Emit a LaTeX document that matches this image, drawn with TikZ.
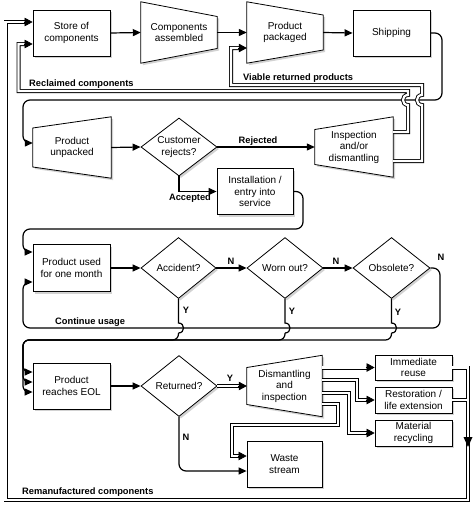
\documentclass[tikz,border=0pt]{standalone}
\usepackage{fontspec}
\setmainfont{Liberation Sans}
\usetikzlibrary{arrows.meta,shapes.geometric,shadows,backgrounds,calc}
\begin{document}
\begin{tikzpicture}[x=1pt,y=-1pt,
  shad/.style={drop shadow={shadow xshift=2pt,shadow yshift=-2pt,fill=black!35}},
  txt/.style={align=center,font=\fontsize{10}{11.5}\selectfont},
  box/.style={txt,draw,line width=0.8pt,fill=white,shad,inner sep=0pt},
  tz/.style={txt,inner sep=0pt},
  tzshape/.style={draw,line width=0.8pt,fill=white,shad},
  dia/.style={diamond,draw,line width=0.8pt,fill=white,shad,inner sep=0pt},
  flow/.style={line width=1.2pt},
  arr/.style={flow,-{Triangle[length=8pt,width=7pt]}},
  lab/.style={font=\bfseries\fontsize{9.3}{10}\selectfont,inner sep=0pt},
  dout/.style={line width=4pt,black},
  din/.style={line width=2.2pt,white},
  dhd/.style={line width=0.6pt,-{Triangle[length=8pt,width=8.5pt]}},
]
\useasboundingbox (0,0) rectangle (474,506);

% ---------- nodes ----------
\node[box, minimum width=77pt, minimum height=46pt] (store) at (71.5,33) {Store of\\components};
\node[tz, minimum width=76pt, minimum height=61pt] (ca) at (179,32.5) {Components\\assembled};
\node[tz, minimum width=76pt, minimum height=61pt] (pp) at (285,32.5) {Product\\packaged};
\node[box, minimum width=77pt, minimum height=46pt] (ship) at (391.5,33) {Shipping};

\node[tz, minimum width=78pt, minimum height=61pt] (pu) at (72,147.5) {Product\\unpacked};
\node[dia, minimum width=76pt, minimum height=58pt,
      label={[txt]center:{Customer\\rejects?}}] (cr) at (179,147) {};
\node[tz, minimum width=78pt, minimum height=60pt] (insp) at (354,147) {Inspection\\and/or\\dismantling};
\node[box, minimum width=76pt, minimum height=46pt] (inst) at (255,191.5) {Installation /\\entry into\\service};

\node[box, minimum width=77pt, minimum height=47pt] (use) at (71.5,268) {Product used\\for one month};
\node[dia, minimum width=75pt, minimum height=61pt, label={[txt]center:Accident?}] (acc) at (178.5,268) {};
\node[dia, minimum width=76pt, minimum height=61pt, label={[txt]center:Worn out?}] (worn) at (285,268) {};
\node[dia, minimum width=77pt, minimum height=61pt, label={[txt]center:Obsolete?}] (obs) at (391.5,268) {};

\node[box, minimum width=77pt, minimum height=46pt] (eol) at (71.5,386) {Product\\reaches EOL};
\node[dia, minimum width=76pt, minimum height=61pt, label={[txt]center:Returned?}] (ret) at (179,386) {};
\node[tz, minimum width=75pt, minimum height=61pt] (dis) at (284.5,386) {Dismantling\\and\\inspection};
\node[box, minimum width=77pt, minimum height=25pt] (reuse) at (413.5,367.5) {Immediate\\reuse};
\node[box, minimum width=77pt, minimum height=26pt] (resto) at (413.5,400) {Restoration /\\life extension};
\node[box, minimum width=77pt, minimum height=26pt] (mat) at (413.5,433) {Material\\recycling};
\node[box, minimum width=75pt, minimum height=46pt] (waste) at (284.5,464) {Waste\\stream};

% ---------- trapezoid outlines ----------
\begin{scope}[on background layer]
  \fill[white] (0,0) rectangle (474,506);
  \path[tzshape] (ca.north west) -- ($(ca.east)+(0,-16)$) -- ($(ca.east)+(0,16)$) -- (ca.south west) -- cycle;
  \path[tzshape] (pp.north west) -- ($(pp.east)+(0,-17.5)$) -- ($(pp.east)+(0,17.5)$) -- (pp.south west) -- cycle;
  \path[tzshape] ($(pu.west)+(0,-19.5)$) -- (pu.north east) -- (pu.south east) -- ($(pu.west)+(0,19.5)$) -- cycle;
  \path[tzshape] ($(insp.west)+(0,-17.5)$) -- (insp.north east) -- (insp.south east) -- ($(insp.west)+(0,17.5)$) -- cycle;
  \path[tzshape] ($(dis.west)+(0,-18.5)$) -- (dis.north east) -- (dis.south east) -- ($(dis.west)+(0,18.5)$) -- cycle;
\end{scope}

% ---------- single flows ----------
\draw[arr] (store.east) -- (ca.west);
\draw[arr] (ca.east) -- (pp.west);
\draw[arr] (pp.east) -- (ship.west);
\draw[arr, rounded corners=7pt] (ship.east) -- (442,33) -- (442,100) -- (23,100) -- (23,143) -- ([yshift=4.5pt]pu.west);
\draw[arr] (pu.east) -- (cr.west);
\draw[arr] (cr.east) -- (insp.west);
\draw[arr] (cr.south) |- (inst.west);
\draw[arr, rounded corners=7pt] (inst.east) -- (303,191.5) -- (303,229) -- (23,229) -- (23,252) -- ([yshift=16pt]use.west);
\draw[arr] (use.east) -- (acc.west);
\draw[arr] (acc.east) -- (worn.west);
\draw[arr] (worn.east) -- (obs.west);
\draw[arr, rounded corners=7pt] (obs.east) -- (440,268) -- (440,328) -- (23,328) -- (23,282) -- ([yshift=-14pt]use.west);

\coordinate (ya) at (178.5,333);
\coordinate (yw) at (285,333);
\coordinate (yo) at (391.5,333);
\draw[flow] (acc.south) -- (178.5,323) .. controls (185.2,323) and (185.2,333) .. (ya);
\draw[flow] (worn.south) -- (285,323) .. controls (291.7,323) and (291.7,333) .. (yw);
\draw[flow] (obs.south) -- (391.5,323) .. controls (398.2,323) and (398.2,333) .. (yo);
\draw[arr, rounded corners=6pt] (ya) -- (178.5,340) -- (23,340) -- (23,372) -- ([yshift=14pt]eol.west);
\draw[arr, rounded corners=6pt] (yw) -- (285,340) -- (23,340) -- (23,382) -- ([yshift=4pt]eol.west);
\draw[arr, rounded corners=6pt] (yo) -- (391.5,340) -- (23,340) -- (23,392) -- ([yshift=-6pt]eol.west);

\draw[arr] (eol.east) -- (ret.west);
\draw[arr, rounded corners=7pt] (ret.south) -- (179,471) -- ([yshift=-7pt]waste.west);

% ---------- double flows ----------
\def\pRec{([yshift=15pt]insp.east) -- (408,132) -- (408,105) .. controls (401.3,105) and (401.3,95) .. (408,95) -- (408,91) -- (18.5,91) -- (18.5,44) -- ([yshift=-11pt]store.west)}
\def\pVia{([yshift=-14pt]insp.east) -- (422,161) -- (422,105) .. controls (415.3,105) and (415.3,95) .. (422,95) -- (422,85) -- (231,85) -- (231,48) -- ([yshift=-15.5pt]pp.west)}
\def\pRet{(ret.east) -- (dis.west)}
\def\pA{([yshift=18.5pt]dis.east) -- (reuse.west)}
\def\pB{([yshift=6pt]dis.east) -- (357,380) -- (357,400) -- (resto.west)}
\def\pC{([yshift=-7pt]dis.east) -- (349,393) -- (349,433) -- (mat.west)}
\def\pD{([yshift=-18pt]dis.east) -- (338,404) -- (338,425) -- (232,425) -- (232,456) -- ([yshift=8pt]waste.west)}
\def\pRem{(reuse.east) -- (468,367.5) -- (468,500) -- (5.5,500) -- (5.5,22) -- ([yshift=11pt]store.west)}
\def\pRes{(resto.east) -- (468,400)}

\draw[dout, shorten >=6pt] \pRec;
\draw[dout, shorten >=6pt] \pVia;
\draw[dout, shorten >=6pt] \pRet;
\draw[dout, shorten >=6pt] \pA;
\draw[dout, shorten >=6pt] \pB;
\draw[dout, shorten >=6pt] \pC;
\draw[dout, shorten >=6pt] \pD;
\draw[dout, shorten >=6pt] \pRem;
\draw[dout] \pRes;

\draw[din, shorten >=6pt] \pRec;
\draw[din, shorten >=6pt] \pVia;
\draw[din, shorten >=6pt] \pRet;
\draw[din, shorten >=6pt] \pA;
\draw[din, shorten >=6pt] \pB;
\draw[din, shorten >=6pt] \pC;
\draw[din, shorten >=6pt] \pD;
\draw[din, shorten >=6pt] \pRem;
\draw[din] \pRes;

% arrowheads of the double flows
\draw[dhd] ($(store.west)+(-9,11)$) -- ([yshift=-11pt]store.west);
\draw[dhd] ($(store.west)+(-9,-11)$) -- ([yshift=11pt]store.west);
\draw[dhd] ($(pp.west)+(-9,15.5)$) -- ([yshift=-15.5pt]pp.west);
\draw[dhd] ($(dis.west)+(-9,0)$) -- (dis.west);
\draw[dhd] ($(reuse.west)+(-9,0)$) -- (reuse.west);
\draw[dhd] ($(resto.west)+(-9,0)$) -- (resto.west);
\draw[dhd] ($(mat.west)+(-9,0)$) -- (mat.west);
\draw[dhd] ($(waste.west)+(-9,-8)$) -- ([yshift=8pt]waste.west);
\fill (463.5,437) -- (472.5,437) -- (468,447) -- cycle;

% ---------- labels ----------
\node[lab, anchor=west] (lrec) at (29,84) {Reclaimed components};
\node[lab, anchor=west] (lvia) at (243,78) {Viable returned products};
\node[lab] (lrej) at (258,141) {Rejected};
\node[lab] (lacc) at (190,198) {Accepted};
\node[lab] (ln1) at (231,261) {N};
\node[lab] (ln2) at (336,261) {N};
\node[lab] (ln3) at (441,257) {N};
\node[lab] (ly1) at (186,310) {Y};
\node[lab] (ly2) at (292,311) {Y};
\node[lab] (ly3) at (398,312) {Y};
\node[lab, anchor=west] (lcont) at (55,322) {Continue usage};
\node[lab] (ly4) at (230,378) {Y};
\node[lab] (ln4) at (186,437) {N};
\node[lab, anchor=west] (lrem) at (22,492) {Remanufactured components};
\end{tikzpicture}
\end{document}
